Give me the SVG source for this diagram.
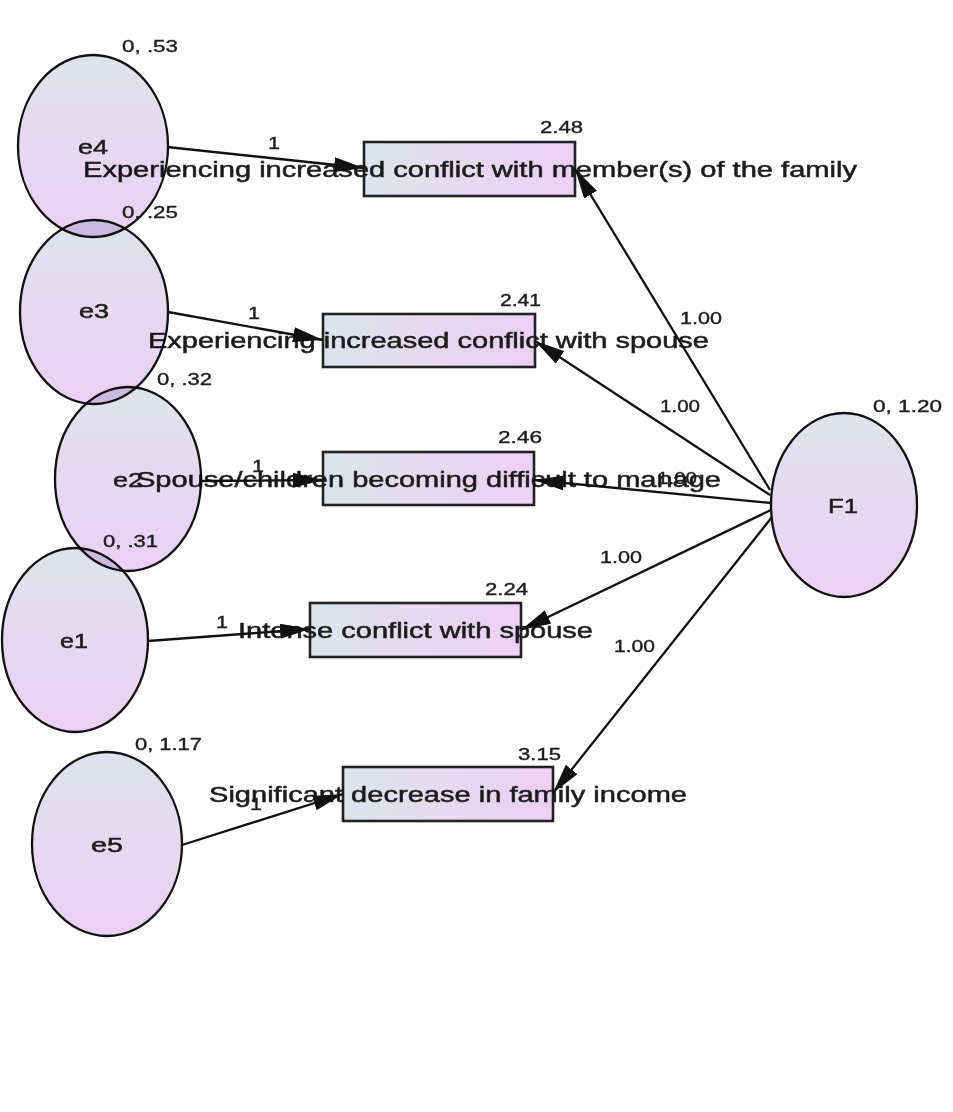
<svg xmlns="http://www.w3.org/2000/svg" width="953" height="1112" viewBox="0 0 953 1112">
<style>
text{font-family:"Liberation Sans",Arial,sans-serif;fill:#1c1c1c;stroke:#1c1c1c;stroke-width:0.35}
.lbl{font-size:22px;stroke-width:0.5}
.num{font-size:16px}
.nm{font-size:20px;stroke-width:0.5}
.box{fill:url(#gr);stroke:#222;stroke-width:2.6}
.ell{fill:url(#ge);stroke:#111;stroke-width:2.3;mix-blend-mode:multiply}
.con{stroke:#111;stroke-width:2.3;fill:none;marker-end:url(#ah)}
</style>
<defs>
<linearGradient id="ge" x1="0" y1="0" x2="0" y2="1">
<stop offset="0" stop-color="#dfe3ec"/>
<stop offset="1" stop-color="#ead0f3"/>
</linearGradient>
<linearGradient id="gr" x1="0" y1="0" x2="1" y2="0">
<stop offset="0" stop-color="#dde4ea"/>
<stop offset="1" stop-color="#ecd0f4"/>
</linearGradient>
<marker id="ah" markerUnits="userSpaceOnUse" markerWidth="30" markerHeight="15" refX="30" refY="7.5" orient="auto">
<path d="M0,0 L30,7.5 L0,15 z" fill="#111"/>
</marker>
</defs>
<rect width="953" height="1112" fill="#fff"/>

<g id="R1">
<rect class="box" x="364" y="142" width="211" height="54"/>
<text class="lbl" x="83" y="177" textLength="774" lengthAdjust="spacingAndGlyphs">Experiencing increased conflict with member(s) of the family</text>
<text class="num" x="540" y="133" textLength="43" lengthAdjust="spacingAndGlyphs">2.48</text>
</g>
<g id="R2">
<rect class="box" x="323" y="314" width="212" height="53"/>
<text class="lbl" x="148" y="348" textLength="561" lengthAdjust="spacingAndGlyphs">Experiencing increased conflict with spouse</text>
<text class="num" x="500" y="306" textLength="41" lengthAdjust="spacingAndGlyphs">2.41</text>
</g>
<g id="R3">
<rect class="box" x="323" y="452" width="211" height="53"/>
<text class="lbl" x="136" y="487" textLength="585" lengthAdjust="spacingAndGlyphs">Spouse/children becoming difficult to manage</text>
<text class="num" x="498" y="443" textLength="44" lengthAdjust="spacingAndGlyphs">2.46</text>
</g>
<g id="R4">
<rect class="box" x="310" y="603" width="211" height="54"/>
<text class="lbl" x="238" y="638" textLength="355" lengthAdjust="spacingAndGlyphs">Intense conflict with spouse</text>
<text class="num" x="485" y="595" textLength="43" lengthAdjust="spacingAndGlyphs">2.24</text>
</g>
<g id="R5">
<rect class="box" x="343" y="767" width="210" height="54"/>
<text class="lbl" x="209" y="802" textLength="478" lengthAdjust="spacingAndGlyphs">Significant decrease in family income</text>
<text class="num" x="518" y="760" textLength="43" lengthAdjust="spacingAndGlyphs">3.15</text>
</g>

<g id="e4">
<ellipse class="ell" cx="93" cy="146" rx="75" ry="91"/>
<text class="nm" x="78" y="154" textLength="30" lengthAdjust="spacingAndGlyphs">e4</text>
<text class="num" x="122" y="52" textLength="56" lengthAdjust="spacingAndGlyphs">0, .53</text>
</g>
<g id="e3">
<ellipse class="ell" cx="94" cy="312" rx="74" ry="92"/>
<text class="nm" x="79" y="318" textLength="30" lengthAdjust="spacingAndGlyphs">e3</text>
<text class="num" x="122" y="218" textLength="56" lengthAdjust="spacingAndGlyphs">0, .25</text>
</g>
<g id="e2">
<ellipse class="ell" cx="128" cy="479" rx="73" ry="92"/>
<text class="nm" x="113" y="487" textLength="30" lengthAdjust="spacingAndGlyphs">e2</text>
<text class="num" x="157" y="385" textLength="55" lengthAdjust="spacingAndGlyphs">0, .32</text>
</g>
<g id="e1">
<ellipse class="ell" cx="75" cy="640" rx="73" ry="92"/>
<text class="nm" x="60" y="648" textLength="28" lengthAdjust="spacingAndGlyphs">e1</text>
<text class="num" x="103" y="547" textLength="55" lengthAdjust="spacingAndGlyphs">0, .31</text>
</g>
<g id="e5">
<ellipse class="ell" cx="107" cy="844" rx="75" ry="92"/>
<text class="nm" x="91" y="852" textLength="32" lengthAdjust="spacingAndGlyphs">e5</text>
<text class="num" x="135" y="750" textLength="67" lengthAdjust="spacingAndGlyphs">0, 1.17</text>
</g>
<g id="F1">
<ellipse class="ell" cx="844" cy="505" rx="73" ry="92"/>
<text class="nm" x="828" y="513" textLength="30" lengthAdjust="spacingAndGlyphs">F1</text>
<text class="num" x="873" y="412" textLength="69" lengthAdjust="spacingAndGlyphs">0, 1.20</text>
</g>

<g id="connectors">
<line class="con" x1="167" y1="147" x2="364" y2="168"/>
<line class="con" x1="168" y1="312" x2="323" y2="340"/>
<line class="con" x1="201" y1="481" x2="323" y2="480"/>
<line class="con" x1="148" y1="641" x2="310" y2="629"/>
<line class="con" x1="182" y1="845" x2="343" y2="794"/>
<line class="con" x1="770" y1="490" x2="575" y2="169"/>
<line class="con" x1="770" y1="495" x2="535" y2="341"/>
<line class="con" x1="771" y1="503" x2="534" y2="480"/>
<line class="con" x1="771" y1="510" x2="521" y2="630"/>
<line class="con" x1="772" y1="517" x2="553" y2="793"/>
<text class="num" x="268" y="149" textLength="12" lengthAdjust="spacingAndGlyphs">1</text>
<text class="num" x="248" y="319" textLength="12" lengthAdjust="spacingAndGlyphs">1</text>
<text class="num" x="252" y="472" textLength="12" lengthAdjust="spacingAndGlyphs">1</text>
<text class="num" x="216" y="628" textLength="12" lengthAdjust="spacingAndGlyphs">1</text>
<text class="num" x="250" y="810" textLength="12" lengthAdjust="spacingAndGlyphs">1</text>
<text class="num" x="680" y="324" textLength="42" lengthAdjust="spacingAndGlyphs">1.00</text>
<text class="num" x="660" y="412" textLength="40" lengthAdjust="spacingAndGlyphs">1.00</text>
<text class="num" x="657" y="484" textLength="40" lengthAdjust="spacingAndGlyphs">1.00</text>
<text class="num" x="600" y="563" textLength="42" lengthAdjust="spacingAndGlyphs">1.00</text>
<text class="num" x="614" y="652" textLength="41" lengthAdjust="spacingAndGlyphs">1.00</text>
</g>
</svg>
